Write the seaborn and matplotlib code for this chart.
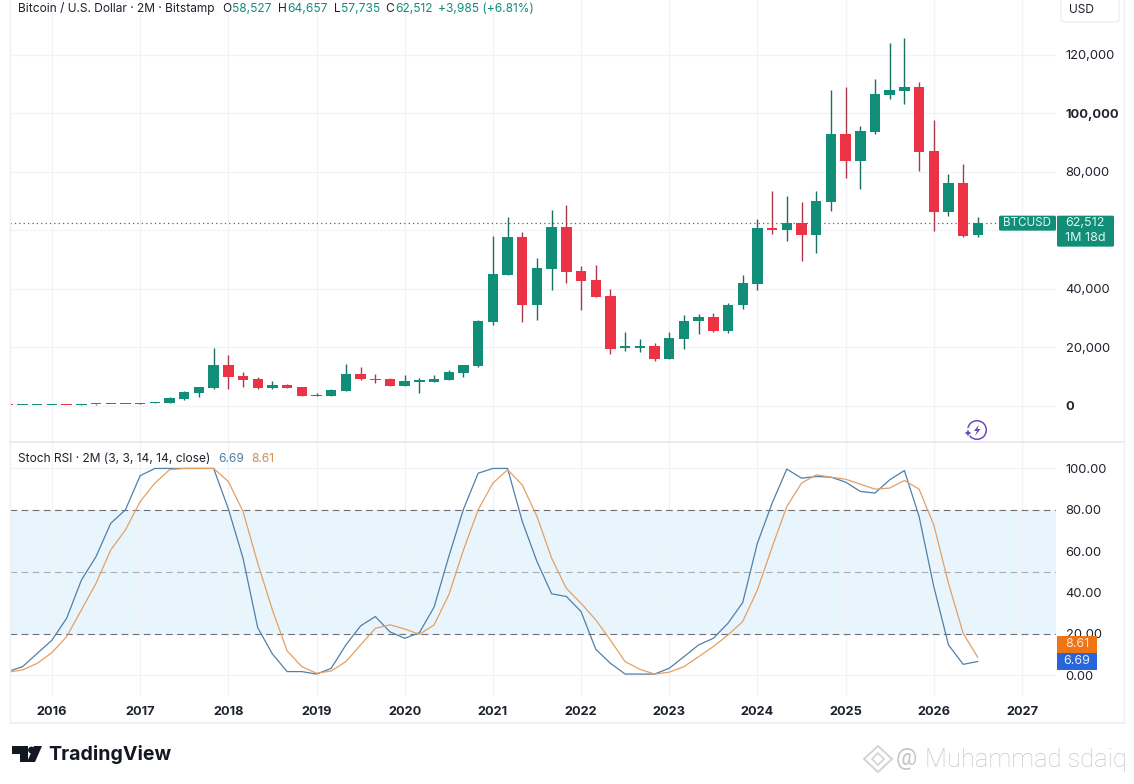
import numpy as np
import pandas as pd
import seaborn as sns
import matplotlib.pyplot as plt
from matplotlib.patches import Rectangle, FancyBboxPatch, Circle, Polygon

# two month candles, starts Jul 2015
bar_open = [250, 230, 240, 380, 430, 420, 675, 610, 620, 740, 960, 1140,
            2400, 4560, 6270, 14140, 10260, 9200, 6150, 7070, 6380, 3530, 3530, 5250,
            10940, 9350, 9230, 6950, 8320, 8320, 9000, 11400, 13670, 28700, 44900, 57780,
            34530, 46950, 61200, 46150, 43080, 37600, 19950, 19950, 20500, 16180, 23020, 29170,
            30430, 25640, 34400, 41700, 60850, 60170, 62450, 58580, 69860, 92880, 83870, 93790,
            106440, 107690, 108950, 87060, 66330, 76130, 58527]
bar_high = [285, 270, 460, 470, 480, 780, 780, 680, 780, 1000, 1300, 3190,
            5000, 6500, 19840, 17440, 11500, 9800, 8550, 7400, 6500, 4560, 5700, 14250,
            13200, 10830, 9460, 10490, 9460, 10600, 12430, 14000, 29300, 58230, 64730, 59500,
            50600, 67000, 68700, 47860, 48300, 40100, 25400, 22800, 21400, 25400, 31000, 31450,
            31900, 35100, 44800, 63900, 73500, 71800, 69700, 73400, 108000, 108950, 95730, 111800,
            123990, 125800, 110650, 97800, 79300, 82740, 64657]
bar_low = [210, 200, 225, 350, 360, 400, 480, 530, 580, 700, 880, 1100,
           2050, 3200, 5900, 5930, 6600, 5800, 5800, 6000, 3300, 3400, 3400, 5130,
           9000, 7750, 6840, 6950, 4330, 8320, 8900, 9900, 13200, 27700, 44900, 28700,
           29400, 39660, 42160, 32930, 37380, 17900, 18800, 18300, 15400, 16180, 19500, 24730,
           25300, 25070, 33000, 39660, 58800, 56500, 49700, 52400, 66670, 78060, 74300, 93000,
           104960, 103360, 80340, 59830, 65070, 57900, 57735]
bar_close = [230, 240, 380, 430, 420, 445, 610, 620, 740, 960, 1190, 2620,
             4790, 6500, 14140, 10030, 9000, 6150, 7180, 6270, 3530, 3650, 5360, 10830,
             9230, 9000, 6950, 8430, 8550, 9120, 11500, 13900, 29060, 45130, 57780, 34530,
             47180, 61200, 45930, 42850, 37380, 19600, 20170, 20400, 16180, 23130, 29060, 30540,
             25640, 34530, 41900, 60740, 60170, 62450, 58580, 70090, 92880, 83870, 93900, 106550,
             107920, 109060, 86950, 66330, 76130, 58120, 62512]

# %K and %D, same two month bars
stoch_k = [1.8, 4.2, 10.6, 17, 27.6, 46, 57.4, 73.5, 80, 96.5, 100, 100,
           100, 100, 100, 80.5, 56.6, 23, 10.3, 1.8, 1.8, 0.6, 3.4, 14.7,
           23.9, 28.4, 21, 17.9, 20.6, 33, 57.4, 80.3, 97.7, 100, 100, 74.4,
           55, 39.4, 38.1, 30.8, 12.6, 5.8, 0.6, 0.6, 0.6, 3.4, 9, 14.7,
           17.9, 25.2, 35.2, 63.9, 83.2, 99.7, 95.3, 96.1, 95.8, 93.4, 88.9, 88.1,
           94.5, 99, 76.8, 42.9, 14.7, 5.3, 6.69]
stoch_d = [1.5, 2.6, 5.8, 11, 18.7, 31.6, 44.5, 60.6, 70.3, 84, 92.9, 99.4,
           100, 100, 100, 93.7, 79.2, 54.2, 31.6, 11.8, 4.2, 1, 2.1, 6.6,
           14.7, 22.7, 24.4, 22.4, 19.8, 24.4, 38.9, 60.6, 80, 92.9, 99.4, 92,
           76.8, 56.6, 42, 34.8, 26.8, 17, 6.6, 2.9, 0.6, 1.5, 4.2, 9,
           13.9, 19.5, 26, 41.3, 62, 81.6, 92.9, 96.9, 95.8, 94.8, 92.4, 90,
           90.5, 94.2, 90, 72.7, 44.5, 20.3, 8.61]

price_ticks = [0, 20000, 40000, 60000, 80000, 100000, 120000]
price_labels = ['0', '20,000', '40,000', '', '80,000', '100,000', '120,000']
rsi_ticks = [0, 20, 40, 60, 80, 100]
rsi_labels = ['0.00', '20.00', '40.00', '60.00', '80.00', '100.00']
years = list(range(2016, 2028))

GREEN = '#118E78'
RED = '#EC3346'
WICK_UP = '#1B6F61'
WICK_DOWN = '#A93A4B'
BLUE_LINE = '#4F80A8'
ORANGE_LINE = '#E4A064'
GRID = '#F1F3F7'
FRAME = '#EDEFF3'
INK = '#1E222D'

sns.set_theme(style='white')
plt.rcParams['font.family'] = ['Inter', 'DejaVu Sans']

W, H = 1134, 784
fig = plt.figure(figsize=(W / 100, H / 100), dpi=100, facecolor='white')


def panel(left, top, right, bottom):
    return fig.add_axes([left / W, 1 - bottom / H, (right - left) / W, (bottom - top) / H])


ax = panel(10, 0, 1056, 442)
ax2 = panel(10, 443, 1056, 696)
xlim = (2015.524, 2027.386)

df = pd.DataFrame({'open': bar_open, 'high': bar_high, 'low': bar_low, 'close': bar_close,
                   'k': stoch_k, 'd': stoch_d})
df['t'] = 2015.5 + df.index / 6
df['up'] = df['close'] >= df['open']

# candles
ax.vlines(df['t'], df['low'], df['high'], colors=np.where(df['up'], WICK_UP, WICK_DOWN), lw=1, zorder=3)
ax.bar(df['t'], (df['close'] - df['open']).abs().clip(lower=400), width=0.118,
       bottom=df[['open', 'close']].min(axis=1),
       color=np.where(df['up'], GREEN, RED), linewidth=0, zorder=4)
last_price = bar_close[-1]
ax.axhline(last_price, xmax=(2026.91 - xlim[0]) / (xlim[1] - xlim[0]), color='#5D606B', lw=0.9,
           ls=(0, (1, 2.5)), zorder=2)

ax.set_xlim(xlim)
ax.set_ylim(-12308, 138803)
ax.set_xticks(years)
ax.set_xticklabels([])
ax.set_yticks(price_ticks)
ax.yaxis.tick_right()
ax.set_yticklabels(price_labels, fontsize=9.3, color=INK)
# round numbers are bold on the price scale
for i in [0, 5]:
    ax.yaxis.get_major_ticks()[i].label2.set_fontweight('bold')
ax.tick_params(length=0, pad=7)
ax.grid(True, color=GRID, lw=0.9)
ax.set_axisbelow(True)

# stoch rsi panel
ax2.axhspan(20, 80, color='#E9F5FC', lw=0, zorder=0)
sns.lineplot(data=df, x='t', y='k', color=BLUE_LINE, lw=0.9, ax=ax2, zorder=3, errorbar=None)
sns.lineplot(data=df, x='t', y='d', color=ORANGE_LINE, lw=0.9, ax=ax2, zorder=4, errorbar=None)
for level, col in [(80, '#6D7078'), (50, '#A9ACB3'), (20, '#6D7078')]:
    ax2.axhline(level, color=col, lw=0.8, ls=(0, (6, 4)), zorder=2)

ax2.set_xlim(xlim)
ax2.set_ylim(-10, 112.3)
ax2.set_xlabel('')
ax2.set_ylabel('')
ax2.set_xticks(years)
ax2.set_xticklabels(years, fontsize=9.2, fontweight='bold', color=INK)
ax2.set_yticks(rsi_ticks)
ax2.yaxis.tick_right()
ax2.set_yticklabels(rsi_labels, fontsize=9.3, color=INK)
ax2.tick_params(axis='y', length=0, pad=7)
ax2.tick_params(axis='x', length=0, pad=7)
ax2.grid(True, color=GRID, lw=0.9)
ax2.set_axisbelow(True)
sns.despine(ax=ax, left=True, right=True, top=True, bottom=True)
sns.despine(ax=ax2, left=True, right=True, top=True, bottom=True)

# everything around the panels is laid out in pixels on one overlay
ov = fig.add_axes([0, 0, 1, 1], zorder=10)
ov.set_xlim(0, W)
ov.set_ylim(H, 0)
ov.axis('off')
ov.patch.set_alpha(0)


def y_px(axis, value):
    return H - axis.transData.transform((xlim[0], value))[1]


def text_at(x, y, s, size=8.6, color=INK, **kw):
    ov.text(x, y, s, fontsize=size, color=color, va='center', **kw)


# frame
ov.plot([10, 10], [0, 723], color=FRAME, lw=1)
ov.plot([10, 1124], [442, 442], color='#E6E8ED', lw=1.2)
ov.plot([10, 1124], [723, 723], color=FRAME, lw=1.2)
ov.plot([1124, 1124], [0, 723], color=FRAME, lw=1)
ov.add_patch(FancyBboxPatch((1061, -6), 58, 28, boxstyle='round,pad=0,rounding_size=3',
                            fc='white', ec='#ECEEF2', lw=1))
text_at(1069, 9.5, 'USD', size=8.6)

# header legends
text_at(18, 8.5, 'Bitcoin / U.S. Dollar · 2M · Bitstamp')
header_parts = [(222, 'O', INK), (232, '58,527', GREEN), (278, 'H', INK), (287, '64,657', GREEN),
                (334, 'L', INK), (341, '57,735', GREEN), (385, 'C', INK), (395, '62,512', GREEN),
                (438, '+3,985 (+6.81%)', GREEN)]
for hx, s, col in header_parts:
    text_at(hx, 8.5, s, color=col)
text_at(18, 458.5, 'Stoch RSI · 2M (3, 3, 14, 14, close)')
text_at(218, 458.5, f'{stoch_k[-1]:.2f}', color=BLUE_LINE)
text_at(251, 458.5, f'{stoch_d[-1]:.2f}', color='#CF8E4F')

# last price tags
py = y_px(ax, last_price)
ov.add_patch(FancyBboxPatch((999, py - 7.5), 57, 15, boxstyle='round,pad=0,rounding_size=1.5', fc=GREEN, lw=0))
ov.add_patch(FancyBboxPatch((1057, py - 7.5), 57, 31, boxstyle='round,pad=0,rounding_size=1.5', fc=GREEN, lw=0))
text_at(1003, py, 'BTCUSD', size=8.4, color='#E4F5F1')
text_at(1065, py, f'{last_price:,}', size=9, color='#E4F5F1')
text_at(1065, py + 15, '1M 18d', size=9, color='#E4F5F1')

# stoch value tags, orange sits on top of blue
ky = y_px(ax2, stoch_k[-1])
ov.add_patch(Rectangle((1057, ky - 8.5), 40, 17, fc='#2765DB', lw=0))
ov.add_patch(Rectangle((1057, ky - 25.5), 40, 17, fc='#EE7414', lw=0))
text_at(1077, ky, f'{stoch_k[-1]:.2f}', size=9, color='#E8EEFB', ha='center')
text_at(1077, ky - 17, f'{stoch_d[-1]:.2f}', size=9, color='#FBE6D4', ha='center')

# lightning badge
ov.add_patch(Circle((977, 430), 9.3, fc='none', ec='#6F4BB0', lw=1.1))
ov.add_patch(Polygon([[979, 424.5], [974, 431], [977, 431], [975, 436], [980.5, 429], [977.5, 429]],
                     fc='#6F4BB0', lw=0))
ov.add_patch(Polygon([[968, 428], [969.5, 431.5], [973, 433], [969.5, 434.5], [968, 438],
                      [966.5, 434.5], [963, 433], [966.5, 431.5]], fc='#5B45C0', ec='white', lw=0.8))

# tradingview logo
ov.add_patch(Polygon([[12, 746], [28, 746], [28, 762], [20, 762], [20, 754], [12, 754]], fc='#131722', lw=0))
ov.add_patch(Circle((31.5, 750), 3.4, fc='#131722', lw=0))
ov.add_patch(Polygon([[34, 746], [42, 746], [35, 762], [27, 762]], fc='#131722', lw=0))
text_at(48, 754, 'TradingView', size=14.1, color='#131722', fontweight='bold')

# watermark
ov.add_patch(Polygon([[878, 746], [892, 759], [878, 772], [864, 759]], fc='none', ec='#D3D3D3', lw=1.4))
ov.add_patch(Polygon([[878, 753], [884, 759], [878, 765], [872, 759]], fc='none', ec='#D3D3D3', lw=1.2))
ov.text(896, 759, '@', fontsize=17, color='#C6C6C6', va='center', family='Roboto')
ov.text(925, 760, 'Muhammad sdaiq', fontsize=18.4, color='#C6C6C6', va='center', family='Roboto',
        fontweight='light')

fig.savefig('out.png', dpi=100)
